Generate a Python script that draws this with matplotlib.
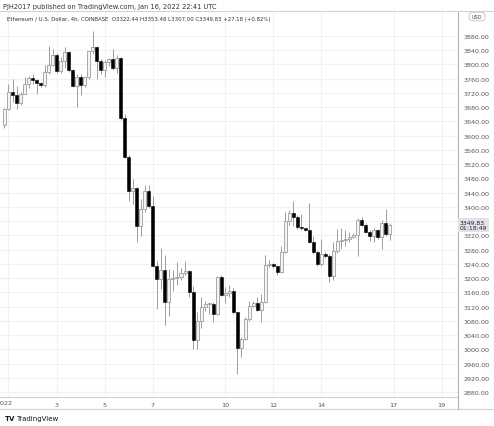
import numpy as np
import matplotlib
matplotlib.use('Agg')
import matplotlib.pyplot as plt
from matplotlib.lines import Line2D
from matplotlib.patches import FancyBboxPatch

# ETH/USD 4h candles, Dec 31 20:00 -> Jan 16 20:00
opens = [3630, 3675, 3722, 3714, 3691, 3718, 3745, 3762, 3757, 3747,
         3742, 3778, 3799, 3827, 3781, 3809, 3834, 3784, 3738, 3766,
         3743, 3764, 3837, 3848, 3809, 3784, 3806, 3815, 3790, 3818,
         3650, 3539, 3445, 3452, 3347, 3394, 3445, 3403, 3235, 3197,
         3224, 3132, 3197, 3200, 3204, 3215, 3221, 3160, 3027, 3080,
         3120, 3127, 3128, 3099, 3202, 3153, 3158, 3165, 3104, 3005,
         3029, 3085, 3122, 3129, 3111, 3133, 3237, 3240, 3234, 3218,
         3272, 3361, 3383, 3372, 3343, 3340, 3336, 3302, 3272, 3240,
         3268, 3262, 3205, 3275, 3305, 3308, 3310, 3316, 3320, 3364,
         3350, 3330, 3318, 3334, 3316, 3356, 3322.44]
highs = [3678, 3745, 3759, 3740, 3722, 3764, 3767, 3772, 3760, 3750,
         3797, 3853, 3843, 3832, 3820, 3848, 3838, 3786, 3772, 3772,
         3766, 3838, 3893, 3853, 3815, 3812, 3818, 3843, 3827, 3822,
         3660, 3546, 3478, 3455, 3422, 3460, 3460, 3430, 3249, 3284,
         3265, 3225, 3224, 3244, 3228, 3249, 3223, 3179, 3104, 3146,
         3136, 3131, 3133, 3206, 3208, 3175, 3180, 3172, 3106, 3035,
         3090, 3136, 3136, 3146, 3155, 3265, 3250, 3243, 3237, 3291,
         3385, 3392, 3417, 3377, 3380, 3342, 3411, 3318, 3277, 3310,
         3272, 3268, 3300, 3338, 3340, 3335, 3330, 3326, 3368, 3372,
         3354, 3336, 3340, 3338, 3364, 3394, 3353.48]
lows = [3622, 3672, 3695, 3675, 3686, 3716, 3735, 3745, 3718, 3737,
        3737, 3773, 3796, 3775, 3775, 3790, 3778, 3736, 3681, 3715,
        3737, 3758, 3830, 3760, 3773, 3766, 3795, 3784, 3775, 3643,
        3537, 3416, 3408, 3300, 3319, 3385, 3398, 3230, 3113, 3169,
        3068, 3094, 3165, 3180, 3195, 3210, 3147, 3001, 3001, 3059,
        3108, 3100, 3076, 3096, 3150, 3131, 3148, 3099, 2930, 2977,
        3025, 3080, 3118, 3108, 3076, 3131, 3230, 3227, 3209, 3215,
        3270, 3350, 3347, 3339, 3335, 3332, 3298, 3268, 3235, 3233,
        3255, 3190, 3195, 3270, 3282, 3290, 3300, 3312, 3262, 3345,
        3326, 3305, 3300, 3310, 3282, 3318, 3307.00]
closes = [3675, 3722, 3714, 3691, 3718, 3745, 3762, 3757, 3747, 3742,
          3778, 3799, 3827, 3781, 3809, 3834, 3784, 3738, 3766, 3743,
          3764, 3837, 3848, 3809, 3784, 3806, 3815, 3790, 3818, 3650,
          3539, 3445, 3452, 3347, 3394, 3445, 3403, 3235, 3197, 3224,
          3132, 3197, 3200, 3204, 3215, 3221, 3160, 3027, 3080, 3120,
          3127, 3128, 3099, 3202, 3153, 3158, 3165, 3104, 3005, 3029,
          3085, 3122, 3129, 3111, 3133, 3237, 3240, 3234, 3218, 3272,
          3361, 3383, 3372, 3343, 3340, 3336, 3302, 3272, 3240, 3268,
          3262, 3205, 3275, 3305, 3308, 3310, 3316, 3320, 3364, 3350,
          3330, 3318, 3334, 3316, 3356, 3322.44, 3349.83]

day_ticks = [1, 3, 5, 7, 10, 12, 14, 17, 19]
day_labels = ['2022', '3', '5', '7', '10', '12', '14', '17', '19']
price_ticks = np.arange(2880, 3881, 40)

header = 'PJH2017 published on TradingView.com, Jan 16, 2022 22:41 UTC'
legend = ('Ethereum / U.S. Dollar, 4h, COINBASE  O3322.44 H3353.48 '
          'L3307.00 C3349.83 +27.18 (+0.82%)')
last_price = '3349.83'
countdown = '01:18:49'

n = len(opens)
# day number (Jan 1 00:00 = 1); last bar opens Jan 16 20:00
t = 16 + 20 / 24 - (n - 1 - np.arange(n)) / 6
o = np.array(opens); c = np.array(closes)
h = np.array(highs); l = np.array(lows)
up = c >= o

W, H = 494, 427
fig = plt.figure(figsize=(W / 100, H / 100), dpi=100)
fig.patch.set_facecolor('white')
ax = fig.add_axes([0, (H - 398) / H, 458 / W, 386 / H])

grid_c = '#eef1f6'
ax.set_xlim(0.647, 19.675)
ax.set_ylim(2866, 3950)
ax.set_xticks(day_ticks)
# first label is clipped by the left edge, drawn separately below
ax.set_xticklabels([''] + day_labels[1:])
ax.set_yticks(price_ticks)
ax.set_yticklabels(['%.2f' % p for p in price_ticks])
ax.yaxis.tick_right()
ax.tick_params(axis='both', length=0, labelsize=4.6, colors='#555555')
ax.tick_params(axis='x', pad=3.5)
ax.tick_params(axis='y', pad=4)
ax.grid(True, color=grid_c, lw=0.8)
ax.set_axisbelow(True)
for s in ['top', 'left']:
    ax.spines[s].set_visible(False)
ax.spines['bottom'].set_color('#d0d3d9')
ax.spines['right'].set_color('#b0b3b9')
ax.spines['bottom'].set_linewidth(0.8)
ax.spines['right'].set_linewidth(0.8)

fig.text(5 / W, 1 - 404 / H, day_labels[0], fontsize=4.6, color='#555555',
         ha='center', va='center')

# candles
bw = 0.125
ax.vlines(t, l, h, color='#9c9c9c', lw=0.7, zorder=2)
hgt = np.maximum(np.abs(c - o), 3)
bot = np.minimum(o, c)
ax.bar(t[up], hgt[up], bottom=bot[up], width=bw, color='#f4f4f4',
       edgecolor='#9c9c9c', linewidth=0.6, zorder=3)
ax.bar(t[~up], hgt[~up], bottom=bot[~up], width=bw, color='black',
       edgecolor='black', linewidth=0.4, zorder=3)

# header texts
fig.text(3 / W, 1 - 7 / H, header, fontsize=4.8, color='#333333', va='center')
ax.text(7 / 458, 1 - 8 / 386, legend, transform=ax.transAxes, fontsize=3.9,
        color='#333333', va='center')

# frame of the widget
fig.add_artist(Line2D([0, 1], [1 - 12 / H, 1 - 12 / H], color='#d0d3d9', lw=0.8))
fig.add_artist(Line2D([0, 1], [1 - 410 / H, 1 - 410 / H], color='#d0d3d9', lw=0.8))
fig.add_artist(Line2D([458 / W, 458 / W], [1 - 410 / H, 1 - 398 / H],
                      color='#b0b3b9', lw=0.8))
fig.add_artist(Line2D([1 - 0.5 / W, 1 - 0.5 / W], [1 - 410 / H, 1 - 12 / H],
                      color='#d0d3d9', lw=0.8))

# USD badge
fig.add_artist(FancyBboxPatch((470 / W, 1 - 21 / H), 14 / W, 7 / H,
                              boxstyle='round,pad=0.002,rounding_size=0.008',
                              fc='white', ec='#b0b3b9', lw=0.5))
fig.text(477 / W, 1 - 17.5 / H, 'USD', fontsize=3.6, color='#444444',
         ha='center', va='center')

# last price label
y_last = (3349.83 - 2866) / (3950 - 2866)
ax.text(1.003, y_last, last_price + '\n' + countdown, transform=ax.transAxes,
        fontsize=4.4, color='#222222', va='center', ha='left', linespacing=1.05,
        bbox=dict(boxstyle='square,pad=0.3', fc='#e1e3e8', ec='none'),
        clip_on=False, zorder=10)

# footer
fig.text(5 / W, 1 - 419 / H, 'TV', fontsize=5, color='#131722',
         fontweight='bold', va='center')
fig.text(16 / W, 1 - 419 / H, 'TradingView', fontsize=5, color='#131722',
         va='center')

fig.savefig('out.png', dpi=100)
